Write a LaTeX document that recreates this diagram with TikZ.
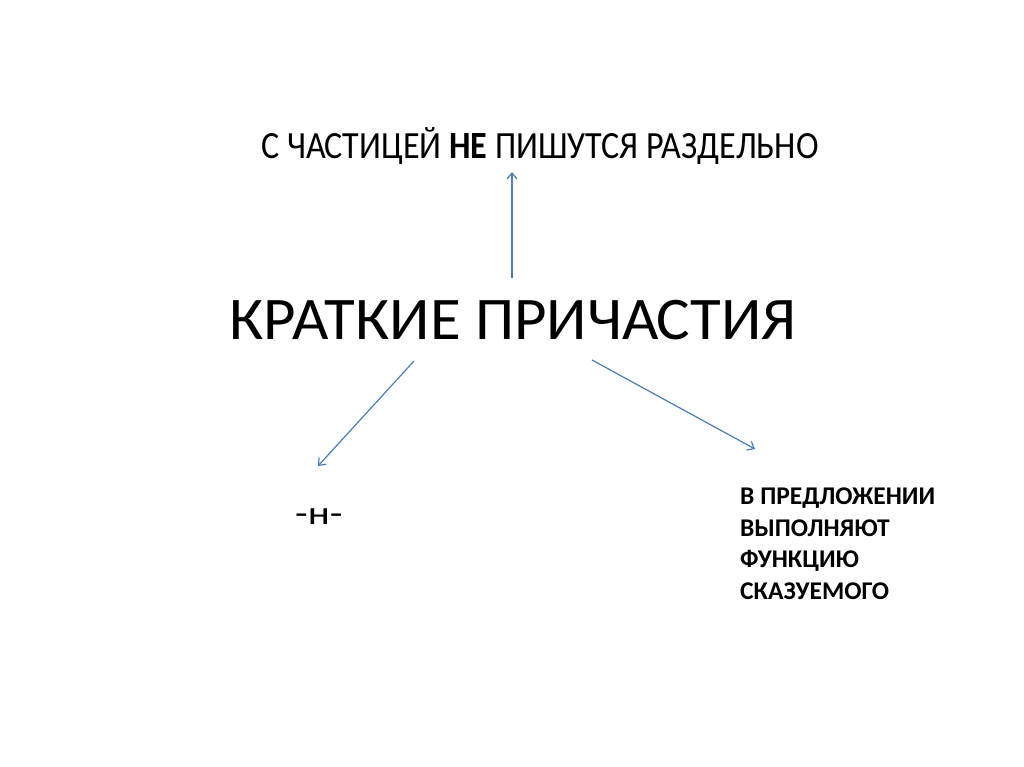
\documentclass[tikz,border=0pt]{standalone}
\usepackage{fontspec}
\usepackage{graphicx}
\setmainfont{Carlito}
\usetikzlibrary{arrows.meta}
\definecolor{arrowblue}{RGB}{74,126,187}
\tikzset{
  txt/.style={inner sep=0pt, anchor=base west, text=black},
  conn/.style={draw=arrowblue, line width=1.2pt, -{Straight Barb[length=6pt,width=10pt]}}
}
\begin{document}
\begin{tikzpicture}[x=1pt,y=-1pt]
\useasboundingbox[fill=white] (0,0) rectangle (1024,767);
\node[txt, font=\fontsize{38.5}{42}\selectfont] (top) at (261,159) {\scalebox{0.885}[1]{С ЧАСТИЦЕЙ \textbf{НЕ} ПИШУТСЯ РАЗДЕЛЬНО}};
\node[txt, font=\fontsize{60.5}{72}\selectfont] (main) at (229,339) {\scalebox{1.04}[1]{КРАТКИЕ ПРИЧАСТИЯ}};
\node[txt, font=\fontsize{33}{36}\selectfont] (n) at (295,524) {\scalebox{1.25}[1]{-н-}};
\node[txt, anchor=north west, font=\fontsize{25.5}{31.5}\selectfont\bfseries, align=left] (pred) at (740,488) {В ПРЕДЛОЖЕНИИ\\ВЫПОЛНЯЮТ\\ФУНКЦИЮ\\СКАЗУЕМОГО};
\coordinate (s1) at (512,278);
\coordinate (e1) at (512,172);
\coordinate (s2) at (414,361);
\coordinate (e2) at (318,466);
\coordinate (s3) at (592,360);
\coordinate (e3) at (755,449);
\draw[conn] (s1) -- (e1);
\draw[conn] (s2) -- (e2);
\draw[conn] (s3) -- (e3);
\end{tikzpicture}
\end{document}
